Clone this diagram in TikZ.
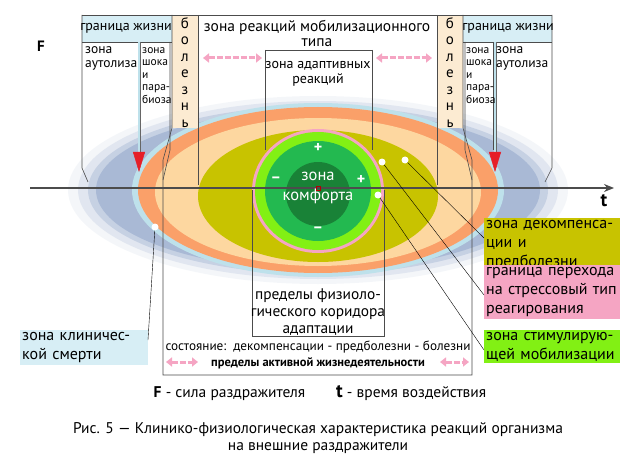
\documentclass[tikz,border=0pt]{standalone}
\usepackage{fontspec}
\setmainfont{PT Sans}
\usetikzlibrary{arrows.meta}
\definecolor{halo}{RGB}{150,170,205}
\definecolor{rim}{RGB}{190,225,235}
\definecolor{orng}{RGB}{250,160,105}
\definecolor{peach}{RGB}{253,215,160}
\definecolor{olive}{RGB}{200,195,0}
\definecolor{lime}{RGB}{130,240,20}
\definecolor{midg}{RGB}{35,185,80}
\definecolor{darkg}{RGB}{25,130,55}
\definecolor{pinkl}{RGB}{245,165,195}
\definecolor{skyl}{RGB}{215,238,245}
\definecolor{boxpeach}{RGB}{252,235,210}
\definecolor{redar}{RGB}{230,30,40}
\tikzset{
  col/.style={draw=black!70,line width=0.6pt},
  lbl/.style={font=\fontsize{13.5}{14}\selectfont,align=left,inner sep=1pt},
  side/.style={font=\fontsize{16}{19}\selectfont,align=left,inner sep=2pt,text width=132pt},
  dot/.style={circle,fill=white,inner sep=0pt,minimum size=7pt},
  pinkarr/.style={pinkl,line width=3pt,dash pattern=on 6pt off 2pt,{Triangle[length=6pt,width=9pt]}-{Triangle[length=6pt,width=9pt]}},
  redarr/.style={black!60,double=rim,double distance=2pt,line width=0.5pt,-{Triangle[length=20pt,width=12pt,fill=redar,color=redar]}},
}
\begin{document}
\begin{tikzpicture}[x=1pt,y=-1pt]
\useasboundingbox[fill=white] (0,0) rectangle (644,465);
% ellipses
\foreach \r/\o in {14/0.1,9/0.2,4/0.35,0/0.6}
  \fill[halo,opacity=\o] (318,190) ellipse [x radius={222+2*\r}, y radius={80+\r}];
\fill[rim] (318,190) ellipse [x radius=186, y radius=87];
\fill[orng] (318,190) ellipse [x radius=180, y radius=83];
\fill[peach] (318,192) ellipse [x radius=163, y radius=74];
\fill[olive] (318,196) ellipse [x radius=120, y radius=66];
\fill[pinkl] (318,191) ellipse [x radius=66, y radius=62];
\fill[lime] (318,191) ellipse [x radius=63, y radius=59];
\fill[midg] (318,191) ellipse [x radius=53, y radius=50];
\fill[darkg] (318,194) circle [radius=32];
% axis
\coordinate (t0) at (30,188);
\coordinate (t1) at (614,188);
\draw[black!70,line width=1.5pt,-{Stealth[length=10pt,width=8pt]}] (t0) -- (t1);
\node[font=\bfseries\fontsize{19}{19}\selectfont] (tl) at (604,201) {t};
\node[font=\bfseries\fontsize{15}{15}\selectfont] (fl) at (41,46) {F};
\draw[red!70!black] (316,186) rectangle (320,190);
% columns
\fill[skyl] (82,15) rectangle (172,42);
\fill[boxpeach] (172,15) rectangle (198,128);
\fill[boxpeach] (437,15) rectangle (463,128);
\fill[skyl] (463,15) rectangle (552,42);
\draw[col] (82,15) -- (552,15);
\draw[col] (82,15) -- (82,168) -- (88,182);
\draw[col] (552,15) -- (552,168) -- (545,182);
\draw[col] (82,42) -- (172,42);
\draw[col] (463,42) -- (552,42);
\draw[col] (140,42) -- (140,150);
\draw[col] (170,42) -- (170,150) -- (163,180);
\draw[col] (493,42) -- (493,150);
\draw[col] (465,42) -- (465,150) -- (472,180);
\draw[col] (172,15) -- (172,128) -- (163,160) -- (163,375) -- (472,375) -- (472,160) -- (463,128) -- (463,15);
\draw[col] (198,15) -- (198,185);
\draw[col] (437,15) -- (437,185);
\draw[col] (265,50) -- (265,150);
\draw[col] (372,50) -- (372,150);
\draw[col] (265,50) -- (372,50);
\draw[col] (252,190) -- (252,336) -- (384,336) -- (384,190);
% red arrows
\coordinate (ra0) at (139,42);
\coordinate (ra1) at (139,172);
\coordinate (rb0) at (495,42);
\coordinate (rb1) at (495,172);
\draw[redarr] (ra0) -- (ra1);
\draw[redarr] (rb0) -- (rb1);
% pink arrows
\draw[pinkarr] (203,58) -- (262,58);
\draw[pinkarr] (376,58) -- (432,58);
\draw[pinkarr] (166,362) -- (198,362);
\draw[pinkarr] (440,362) -- (469,362);
% column texts
\node[lbl,font=\fontsize{14}{15}\selectfont] (gl) at (126,28) {граница жизни};
\node[lbl,font=\fontsize{14}{15}\selectfont] (gr) at (508,28) {граница жизни};
\node[lbl,anchor=north west] (al) at (84,45) {зона\\аутолиза};
\node[lbl,anchor=north west,font=\fontsize{11.5}{12.5}\selectfont] (sl) at (141,46) {зона\\шока\\и\\пара-\\биоза};
\node[lbl,anchor=north west,font=\fontsize{11.5}{12.5}\selectfont] (sr) at (465,46) {зона\\шока\\и\\пара-\\биоза};
\node[lbl,anchor=north west] (ar) at (495,45) {зона\\аутолиза};
\node[lbl,anchor=north,align=center,font=\fontsize{15}{16.5}\selectfont] (bl) at (185,16) {б\\о\\л\\е\\з\\н\\ь};
\node[lbl,anchor=north,align=center,font=\fontsize{15}{16.5}\selectfont] (br) at (450,16) {б\\о\\л\\е\\з\\н\\ь};
\node[lbl,align=center,font=\fontsize{15.5}{15}\selectfont] (mob) at (317,33) {зона реакций мобилизационного\\типа};
\node[lbl,align=center,font=\fontsize{14}{15}\selectfont] (adp) at (318,74) {зона адаптивных\\реакций};
% circle texts
\node[text=white,font=\fontsize{16.5}{20}\selectfont,align=center] (cmf) at (318,188) {зона\\комфорта};
\node[text=white,font=\bfseries\fontsize{16}{16}\selectfont] (p1) at (318,148) {+};
\node[text=white,font=\bfseries\fontsize{16}{16}\selectfont] (p2) at (361,180) {+};
\node[text=white,font=\bfseries\fontsize{16}{16}\selectfont] (m1) at (276,180) {--};
\node[text=white,font=\bfseries\fontsize{16}{16}\selectfont] (m2) at (318,230) {--};
\node[lbl,align=center,font=\fontsize{15.4}{17}\selectfont] (pfk) at (318,312) {пределы физиоло-\\гического коридора\\адаптации};
\node[lbl,align=center,font=\fontsize{13.2}{14}\selectfont] (sost) at (318,347) {состояние:\ \ декомпенсации - предболезни - болезни};
\node[lbl,align=center,font=\bfseries\fontsize{12.5}{14}\selectfont] (paj) at (318,363) {пределы активной жизнедеятельности};
% side labels
\node[side,fill=olive,anchor=north west] (dek) at (484,218) {зона декомпенса-\\ции и предболезни};
\node[side,fill=pinkl,anchor=north west] (grp) at (484,265) {граница перехода\\на стрессовый тип\\реагирования};
\node[side,fill=lime,anchor=north west] (stm) at (484,330) {зона стимулирую-\\щей мобилизации};
\node[side,fill=skyl,anchor=north west,text width=124pt] (kls) at (20,330) {зона клиничес-\\кой смерти};
% dots and leaders
\node[dot] (d1) at (405,160) {};
\node[dot] (d2) at (382,162) {};
\node[dot] (d3) at (378,195) {};
\node[dot] (d4) at (155,227) {};
\draw[thin] (d1) -- (484,238);
\draw[thin] (d2) -- (484,295);
\draw[thin] (d3) -- (484,350);
\draw[thin] (d4) -- (148,340);
% bottom
\node[font=\fontsize{15.5}{17}\selectfont] (leg) at (320,393) {\textbf{F} - сила раздражителя\qquad \textbf{\fontsize{19}{19}\selectfont t} -\ время воздействия};
\node[align=center,font=\fontsize{15.5}{17}\selectfont] (cap) at (318,438) {Рис. 5 — Клинико-физиологическая характеристика реакций организма\\на внешние раздражители};
\end{tikzpicture}
\end{document}
